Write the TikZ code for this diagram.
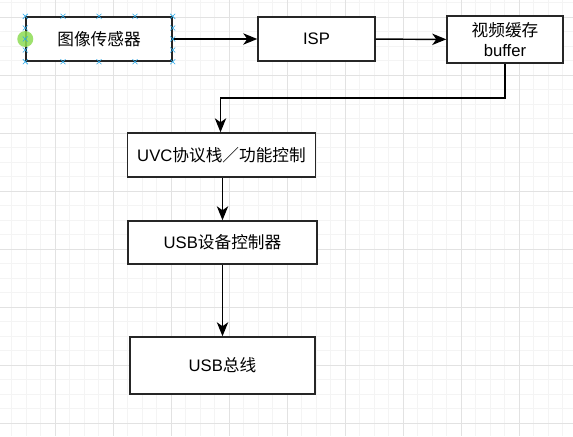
\documentclass[tikz,border=0pt]{standalone}
\usepackage{fontspec}
\setmainfont{Liberation Sans}
\newfontfamily\zhfont{Noto Sans CJK SC}
\usepackage{xcolor}
\usetikzlibrary{arrows.meta,positioning,calc}
\definecolor{gridminor}{HTML}{F4F4F4}
\definecolor{gridmajor}{HTML}{E2E2E2}
\definecolor{handle}{HTML}{29A8E8}
\definecolor{hotspot}{HTML}{8EDC55}
\newcommand{\zh}[1]{{\zhfont #1}}

\begin{document}
\begin{tikzpicture}[
  x=0.75pt, y=-0.75pt,
  font=\fontsize{12.5}{15.5}\selectfont,
  box/.style={draw=black!85, line width=1.1pt, fill=white, align=center,
              inner sep=0pt},
  flow/.style={-{Stealth[length=10.5pt, width=8.5pt, inset=3pt]},
               line width=1.1pt, draw=black},
  handlex/.pic={\draw[handle, line width=0.5pt]
                  (-2.5,-2.5) -- (2.5,2.5) (-2.5,2.5) -- (2.5,-2.5);}]
  % page and grid
  \useasboundingbox[fill=white] (0,0) rectangle (573,436);
  \foreach \k in {0,...,40} {
    \draw[gridminor, line width=0.6pt] (-2.7+14.5*\k,0) -- (-2.7+14.5*\k,436);
    \draw[gridminor, line width=0.6pt] (0,2.8+14.5*\k) -- (573,2.8+14.5*\k);
  }
  \foreach \k in {0,...,10} {
    \draw[gridmajor, line width=0.7pt] (-2.7+58*\k,0) -- (-2.7+58*\k,436);
    \draw[gridmajor, line width=0.7pt] (0,17.3+58*\k) -- (573,17.3+58*\k);
  }

  % blocks
  \node[box, minimum width=146*0.75pt, minimum height=44*0.75pt] (sensor) at (99,39)
    {\zh{图像传感器}};
  \node[box, minimum width=117*0.75pt, minimum height=44*0.75pt] (isp) at (316.5,39)
    {ISP};
  \node[box, minimum width=116*0.75pt, minimum height=47*0.75pt] (buffer) at (505,39.5)
    {\zh{视频缓存}\\buffer};
  \node[box, minimum width=188*0.75pt, minimum height=44*0.75pt] (uvc) at (221.5,155)
    {UVC\zh{协议栈／功能控制}};
  \node[box, minimum width=189*0.75pt, minimum height=43*0.75pt] (usbctl) at (222.5,242.5)
    {USB\zh{设备控制器}};
  \node[box, minimum width=185*0.75pt, minimum height=57*0.75pt] (usbbus) at (222.5,365.5)
    {USB\zh{总线}};

  % connectors
  \coordinate (bend) at (220.5,98);
  \draw[flow] (sensor) -- (isp);
  \draw[flow] (isp) -- (buffer);
  \draw[flow] (buffer.south) |- (bend) -- (bend |- uvc.north);
  \draw[flow] (uvc.south -| usbctl) -- (usbctl);
  \draw[flow] (usbctl) -- (usbbus);

  % selection handles on the sensor block
  \fill[hotspot, opacity=0.85] (sensor.west) circle (8);
  \foreach \p in {north west, north east, south west, south east, west, east,
                  north, south}
    \pic at (sensor.\p) {handlex};
  \foreach \dx in {-36,36} {
    \pic at ($(sensor.north)+(\dx,0)$) {handlex};
    \pic at ($(sensor.south)+(\dx,0)$) {handlex};
  }
  \foreach \dy in {-11,11} {
    \pic at ($(sensor.west)+(0,\dy)$) {handlex};
    \pic at ($(sensor.east)+(0,\dy)$) {handlex};
  }
\end{tikzpicture}
\end{document}
